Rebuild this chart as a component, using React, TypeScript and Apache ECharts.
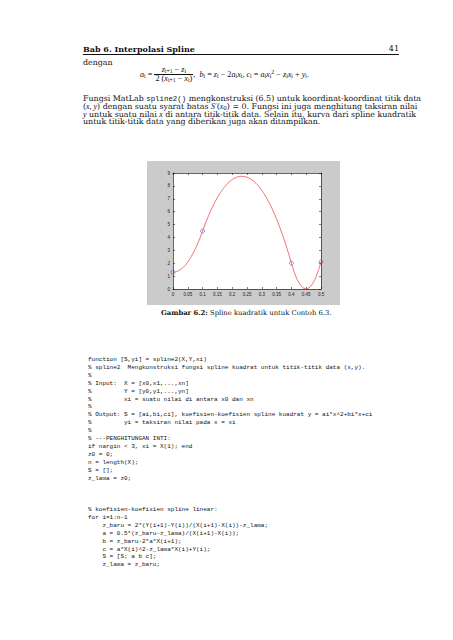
import { useEffect, useRef } from 'react'
import * as echarts from 'echarts'

// titik-titik data (Contoh 6.3)
const dataX = [0, 0.1, 0.4, 0.5]
const dataY = [1.3, 4.5, 2.0, 2.1]

// kurva spline kuadratik, dibaca dari gambar tiap 0.01
const curveX = [
  0, 0.01, 0.02, 0.03, 0.04, 0.05, 0.06, 0.07, 0.08, 0.09,
  0.1, 0.11, 0.12, 0.13, 0.14, 0.15, 0.16, 0.17, 0.18, 0.19,
  0.2, 0.21, 0.22, 0.23, 0.24, 0.25, 0.26, 0.27, 0.28, 0.29,
  0.3, 0.31, 0.32, 0.33, 0.34, 0.35, 0.36, 0.37, 0.38, 0.39,
  0.4, 0.41, 0.42, 0.43, 0.44, 0.45, 0.46, 0.47, 0.48, 0.49, 0.5
]
const curveY = [
  1.3, 1.33, 1.43, 1.59, 1.81, 2.1, 2.45, 2.87, 3.35, 3.89,
  4.5, 5.12, 5.68, 6.2, 6.67, 7.1, 7.47, 7.8, 8.08, 8.31,
  8.49, 8.62, 8.71, 8.75, 8.73, 8.68, 8.57, 8.41, 8.21, 7.96,
  7.66, 7.31, 6.91, 6.47, 5.97, 5.43, 4.84, 4.2, 3.52, 2.78,
  2.0, 1.28, 0.71, 0.32, 0.08, 0.01, 0.1, 0.36, 0.77, 1.36, 2.1
]

const xTickLabels = ['0', '0.05', '0.1', '0.15', '0.2', '0.25', '0.3', '0.35', '0.4', '0.45', '0.5']
const yTickLabels = ['0', '1', '2', '3', '4', '5', '6', '7', '8', '9']

const codeTop = [
  'function [S,yi] = spline2(X,Y,xi)',
  '% spline2  Mengkonstruksi fungsi spline kuadrat untuk titik-titik data (x,y).',
  '%',
  '% Input:  X = [x0,x1,...,xn]',
  '%         Y = [y0,y1,...,yn]',
  '%         xi = suatu nilai di antara x0 dan xn',
  '%',
  '% Output: S = [ai,bi,ci], koefisien-koefisien spline kuadrat y = ai*x^2+bi*x+ci',
  '%         yi = taksiran nilai pada x = xi',
  '%',
  '% ---PENGHITUNGAN INTI:',
  'if nargin < 3, xi = X(1); end',
  'z0 = 0;',
  'n = length(X);',
  'S = [];',
  'z_lama = z0;'
]
const codeBottom = [
  '% koefisien-koefisien spline linear:',
  'for i=1:n-1',
  '    z_baru = 2*(Y(i+1)-Y(i))/(X(i+1)-X(i))-z_lama;',
  '    a = 0.5*(z_baru-z_lama)/(X(i+1)-X(i));',
  '    b = z_baru-2*a*X(i+1);',
  '    c = a*X(i)^2-z_lama*X(i)+Y(i);',
  '    S = [S; a b c];',
  '    z_lama = z_baru;'
]

const SERIF = '"DejaVu Serif", "Liberation Serif", serif'
const MATH = '"Liberation Serif", "DejaVu Serif", serif'
const MONO = '"Liberation Mono", "DejaVu Sans Mono", monospace'

const SplineChart = () => {
  const chartRef = useRef<HTMLDivElement>(null)

  useEffect(() => {
    if (!chartRef.current) return
    const chart = echarts.init(chartRef.current, null, { renderer: 'svg' })

    const line = { show: true, onZero: false, lineStyle: { color: '#000', width: 0.6 } }
    const tick = { show: true, inside: true, length: 2, lineStyle: { color: '#000', width: 0.5 } }
    const label = { fontSize: 4.5, color: '#222', fontFamily: 'Arial, "Liberation Sans", sans-serif' }

    chart.setOption({
      animation: false,
      backgroundColor: '#cbcbcb',
      grid: { left: 26, top: 12, width: 148, height: 116, show: true, backgroundColor: '#fff', borderWidth: 0 },
      xAxis: [
        {
          type: 'value', min: 0, max: 0.5, interval: 0.05, position: 'bottom',
          axisLine: line, axisTick: tick, splitLine: { show: false },
          axisLabel: { ...label, margin: 3, formatter: (v: number) => xTickLabels[Math.round(v / 0.05)] }
        },
        {
          type: 'value', min: 0, max: 0.5, interval: 0.05, position: 'top',
          axisLine: line, axisTick: tick, splitLine: { show: false }, axisLabel: { show: false }
        }
      ],
      yAxis: [
        {
          type: 'value', min: 0, max: 9, interval: 1, position: 'left',
          axisLine: line, axisTick: tick, splitLine: { show: false },
          axisLabel: { ...label, margin: 3, formatter: (v: number) => yTickLabels[Math.round(v)] }
        },
        {
          type: 'value', min: 0, max: 9, interval: 1, position: 'right',
          axisLine: line, axisTick: tick, splitLine: { show: false }, axisLabel: { show: false }
        }
      ],
      series: [
        {
          type: 'line',
          data: curveX.map((x, i) => [x, curveY[i]]),
          showSymbol: false,
          smooth: 0.2,
          lineStyle: { color: '#e8343c', width: 0.7 }
        },
        {
          type: 'scatter',
          data: dataX.map((x, i) => [x, dataY[i]]),
          symbol: 'circle',
          symbolSize: 4,
          itemStyle: { color: 'rgba(0,0,0,0)', borderColor: '#4a4ac8', borderWidth: 0.7 }
        }
      ]
    })

    return () => chart.dispose()
  }, [])

  return (
    <div
      ref={chartRef}
      style={{ position: 'absolute', left: 147, top: 161, width: 193, height: 144 }}
    />
  )
}

const sub = (t: string) => <span style={{ fontSize: '0.7em', verticalAlign: '-0.2em', lineHeight: 0 }}>{t}</span>
const sup = (t: string) => <span style={{ fontSize: '0.7em', verticalAlign: '0.45em', lineHeight: 0 }}>{t}</span>

const TextLine = ({ y, children, last = false }: { y: number, children: any, last?: boolean }) => (
  <div
    style={{
      position: 'absolute', left: 83, width: 318, top: y - 3.8, height: 7.6, lineHeight: '7.6px',
      fontSize: 7.9, fontFamily: SERIF, whiteSpace: 'nowrap',
      textAlign: 'justify', textAlignLast: last ? 'left' : 'justify'
    }}
  >
    {children}
  </div>
)

const CodeBlock = ({ y, lines }: { y: number, lines: string[] }) => (
  <pre
    style={{
      position: 'absolute', left: 88, top: y - 4, margin: 0,
      fontFamily: MONO, fontSize: 6, lineHeight: '7.9px', color: '#111'
    }}
  >
    {lines.join('\n')}
  </pre>
)

export default function App() {
  const i = (t: string) => <i style={{ fontFamily: MATH }}>{t}</i>
  return (
    <div style={{ position: 'absolute', left: 0, top: 0, width: 453, height: 640, background: '#fff', color: '#111', overflow: 'hidden' }}>
      {/* kepala halaman */}
      <div style={{ position: 'absolute', left: 83, top: 44, fontFamily: SERIF, fontWeight: 'bold', fontSize: 8, lineHeight: '10px' }}>
        Bab 6. Interpolasi Spline
      </div>
      <div style={{ position: 'absolute', right: 453 - 399, top: 44, fontFamily: SERIF, fontSize: 8, lineHeight: '10px' }}>41</div>
      <div style={{ position: 'absolute', left: 83, top: 54, width: 316, height: 0, borderTop: '0.7px solid #111' }} />

      <div style={{ position: 'absolute', left: 83, top: 59, fontFamily: SERIF, fontSize: 7.9, lineHeight: '8px' }}>dengan</div>

      {/* rumus koefisien */}
      <div
        style={{
          position: 'absolute', left: 140, top: 65, height: 18, display: 'flex', alignItems: 'center',
          fontFamily: MATH, fontSize: 8.2, whiteSpace: 'nowrap'
        }}
      >
        <span>{i('a')}{sub('i')}&nbsp;=&nbsp;</span>
        <span style={{ display: 'inline-flex', flexDirection: 'column', alignItems: 'center', lineHeight: '8px' }}>
          <span>{i('z')}{sub('i+1')} − {i('z')}{sub('i')}</span>
          <span style={{ borderTop: '0.6px solid #111', padding: '0 1px' }}>2 ({i('x')}{sub('i+1')} − {i('x')}{sub('i')})</span>
        </span>
        <span>
          ,&nbsp; {i('b')}{sub('i')} = {i('z')}{sub('i')} − 2{i('a')}{sub('i')}{i('x')}{sub('i')},&nbsp;
          {i('c')}{sub('i')} = {i('a')}{sub('i')}{i('x')}{sub('i')}{sup('2')} − {i('z')}{sub('i')}{i('x')}{sub('i')} + {i('y')}{sub('i')}.
        </span>
      </div>

      <TextLine y={99}>
        Fungsi MatLab <span style={{ fontFamily: MONO, fontSize: 7.4 }}>spline2()</span> mengkonstruksi (6.5) untuk koordinat-koordinat titik data
      </TextLine>
      <TextLine y={106.7}>
        ({i('x, y')}) dengan suatu syarat batas {i('S')}′({i('x')}{sub('0')}) = 0. Fungsi ini juga menghitung taksiran nilai
      </TextLine>
      <TextLine y={114.4}>
        {i('y')} untuk suatu nilai {i('x')} di antara titik-titik data. Selain itu, kurva dari spline kuadratik
      </TextLine>
      <TextLine y={122.1} last>
        untuk titik-titik data yang diberikan juga akan ditampilkan.
      </TextLine>

      <SplineChart />

      <div style={{ position: 'absolute', left: 161, top: 309, fontFamily: SERIF, fontSize: 6.8, lineHeight: '8px', whiteSpace: 'nowrap' }}>
        <b>Gambar 6.2:</b> Spline kuadratik untuk Contoh 6.3.
      </div>

      <CodeBlock y={360} lines={codeTop} />
      <CodeBlock y={510} lines={codeBottom} />
    </div>
  )
}
